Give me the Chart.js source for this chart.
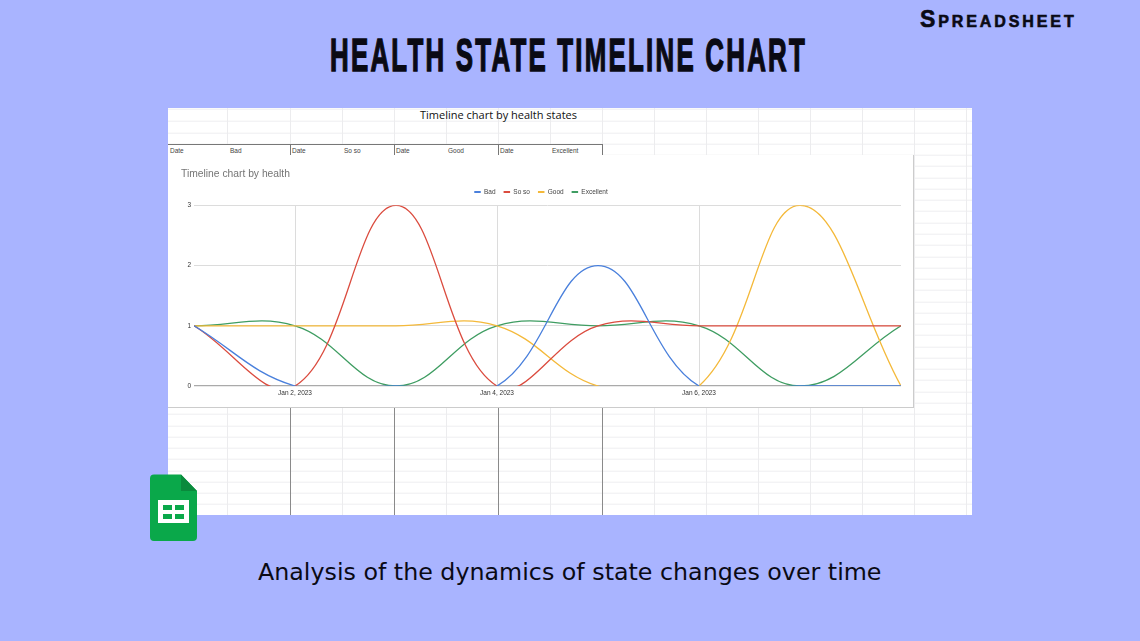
<!DOCTYPE html>
<html><head><meta charset="utf-8">
<script src="https://cdn.jsdelivr.net/npm/chart.js@4"></script>
<style>
html,body{margin:0;padding:0;width:1140px;height:641px;overflow:hidden;background:#a9b4ff;}
.a{position:absolute;white-space:nowrap;}
#sheet{left:168px;top:108px;width:804px;height:407px;background-color:#fff;
background-image:repeating-linear-gradient(to right,transparent 0 51px,#ececee 51px 52px),repeating-linear-gradient(to bottom,transparent 0 10.27px,#eeeef0 10.27px 11.27px);
background-position:19px 0,0 2.7px;}
#firstcol{left:168px;top:108px;width:122px;height:407px;background-color:#fff;
background-image:linear-gradient(#ececee,#ececee),repeating-linear-gradient(to bottom,transparent 0 10.27px,#eeeef0 10.27px 11.27px);
background-size:1px 100%,100% 100%;background-position:59px 0,0 2.7px;background-repeat:no-repeat,repeat;}
#card{left:168px;top:155px;width:745px;height:252px;background:#fff;border-right:1px solid #ccc;border-bottom:1px solid #ccc;}
canvas{display:block;}
.hd{top:144px;height:10px;border-top:1px solid #777;border-bottom:1px solid #999;border-right:1px solid #777;box-sizing:content-box;background:#fff;font:6.5px/11px "Liberation Sans",sans-serif;color:#444;}
.hd span{position:absolute;top:0;}
.v{width:1px;top:408px;height:107px;background:#8a8a8a;}
</style></head><body>
<div class="a" id="sheet"></div>
<div class="a" id="firstcol"></div>
<div class="a" style="left:420px;top:108px;font:500 11px/14px 'Open Sans',sans-serif;color:#111">Timeline chart by health states</div>
<div class="a hd" style="left:168px;width:122px;"><span style="left:2px">Date</span><span style="left:62px">Bad</span></div>
<div class="a hd" style="left:291px;width:103px;"><span style="left:1px">Date</span><span style="left:53px">So so</span></div>
<div class="a hd" style="left:395px;width:103px;"><span style="left:1px">Date</span><span style="left:53px">Good</span></div>
<div class="a hd" style="left:499px;width:103px;"><span style="left:1px">Date</span><span style="left:53px">Excellent</span></div>
<div class="a v" style="left:290px"></div><div class="a v" style="left:394px"></div><div class="a v" style="left:498px"></div><div class="a v" style="left:602px"></div>
<div class="a" id="card"><canvas id="c" width="746" height="253" style="width:746px;height:253px"></canvas></div>
<div class="a" id="title" style="left:330px;top:27px;font:bold 46px/56px 'Liberation Sans',sans-serif;color:#0a0a14;-webkit-text-stroke:1.5px #0a0a14;transform-origin:0 0;letter-spacing:4px">HEALTH STATE TIMELINE CHART</div>
<div class="a" style="left:920px;top:4px;font:bold 23px/30px 'Liberation Sans',sans-serif;font-variant:small-caps;letter-spacing:2.9px;color:#0a0a14;-webkit-text-stroke:.6px #0a0a14">Spreadsheet</div>
<div class="a" style="left:258px;top:557px;font:23.75px/30px 'DejaVu Sans',sans-serif;color:#0a0a14">Analysis of the dynamics of state changes over time</div>
<svg class="a" style="left:150px;top:474px" width="48" height="68" viewBox="0 0 48 68">
<path d="M4 0.5H31L47 17V63a4 4 0 0 1-4 4H4a4 4 0 0 1-4-4V4.500a4 4 0 0 1 4-4z" fill="#0aa84a"/>
<path d="M31 .5L47 17H31z" fill="#0a8a3c"/>
<rect x="8" y="26" width="31" height="23" fill="#fff"/>
<rect x="13" y="31" width="9" height="5" fill="#0aa84a"/><rect x="25" y="31" width="9" height="5" fill="#0aa84a"/>
<rect x="13" y="40" width="9" height="5" fill="#0aa84a"/><rect x="25" y="40" width="9" height="5" fill="#0aa84a"/>
</svg>
<script>
const categories=["Jan 1, 2023","Jan 2, 2023","Jan 3, 2023","Jan 4, 2023","Jan 5, 2023","Jan 6, 2023","Jan 7, 2023","Jan 8, 2023"];
const bad=[1,0,0,0,2,0,0,0];
const soSo=[1,0,3,0,1,1,1,1];
const good=[1,1,1,1,0,0,3,0];
const excellent=[1,1,0,1,1,1,0,1];
const xTickLabels=["Jan 2, 2023","Jan 4, 2023","Jan 6, 2023"];
const yTicks=[0,1,2,3];
const FONT='"Liberation Sans",Arial,sans-serif';
const t=document.getElementById('title');
t.style.transform='scaleX('+(477/t.offsetWidth)+')';
const mk=(label,data,color)=>({label,data,borderColor:color,backgroundColor:color,borderWidth:1.3,pointRadius:0,tension:0.4,fill:false,clip:0});
new Chart(document.getElementById('c'),{
 type:'line',
 data:{labels:categories,datasets:[mk('Bad',bad,'#4a80dc'),mk('So so',soSo,'#db4c3f'),mk('Good',good,'#f4b93a'),mk('Excellent',excellent,'#3f9d62')]},
 options:{
  responsive:false,animation:false,devicePixelRatio:1,
  layout:{padding:{left:13,right:13,top:13,bottom:0}},
  elements:{line:{capBezierPoints:false}},
  plugins:{
   title:{display:true,text:'Timeline chart by health',align:'start',color:'#757575',font:{family:FONT,size:10.3,weight:'normal'},padding:{top:0,bottom:0.5}},
   legend:{display:true,align:'center',labels:{usePointStyle:true,pointStyle:'line',pointStyleWidth:6.5,boxWidth:7,boxHeight:2,padding:8,color:'#444',font:{family:FONT,size:6.5},
     generateLabels(ch){return Chart.defaults.plugins.legend.labels.generateLabels(ch).map(l=>({...l,lineWidth:2}));}}},
   tooltip:{enabled:false}
  },
  scales:{
   x:{offset:false,border:{display:false},
      grid:{color:c=>xTickLabels.includes(categories[c.index])?'#dcdcdc':'transparent',lineWidth:1,drawTicks:false},
      ticks:{autoSkip:false,maxRotation:0,padding:3,color:'#333',font:{family:FONT,size:6.5},callback(v,i){const s=this.getLabelForValue(v);return xTickLabels.includes(s)?s:'';}},
      afterFit(s){s.height=22;}},
   y:{min:0,max:3,border:{display:false},
      afterBuildTicks(s){s.ticks=yTicks.map(value=>({value}));},
      grid:{color:c=>c.tick.value===0?'#aaaaaa':'#dcdcdc',lineWidth:c=>c.tick.value===0?1.2:1,drawTicks:false},
      ticks:{padding:3,color:'#333',font:{family:FONT,size:6.5}},
      afterFit(s){s.width=13;}}
  }
 }
});
</script>
</body></html>
